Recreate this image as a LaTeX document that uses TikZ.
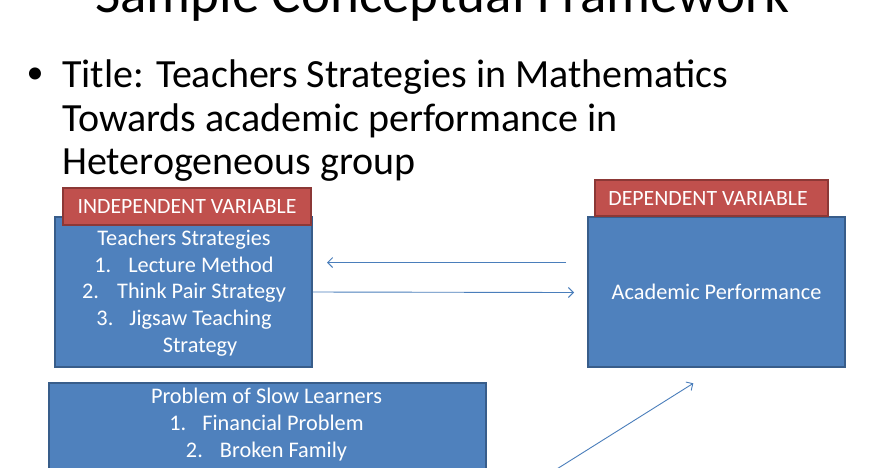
\documentclass[tikz,border=0pt]{standalone}
\usepackage{fontspec}
\setmainfont{Carlito}
\usetikzlibrary{arrows.meta}
\definecolor{boxblue}{HTML}{4F81BD}
\definecolor{boxblueline}{HTML}{385D8A}
\definecolor{boxred}{HTML}{C0504D}
\definecolor{boxredline}{HTML}{8C3836}
\definecolor{arrowblue}{HTML}{4A7EBB}
\begin{document}
\begin{tikzpicture}[x=1pt,y=-1pt,
  bluebox/.style={draw=boxblueline, fill=boxblue, line width=1.8pt, rectangle, inner sep=0pt},
  redbox/.style={draw=boxredline, fill=boxred, line width=1.8pt, rectangle, inner sep=0pt, text=white, font=\fontsize{21.8}{25}\selectfont},
  boxtext/.style={text=white, align=center, font=\fontsize{22.3}{26.7}\selectfont, inner sep=0pt},
  bodytext/.style={anchor=base west, inner sep=0pt, font=\fontsize{40}{48}\selectfont},
  headtext/.style={anchor=base, inner sep=0pt, font=\fontsize{55}{60}\selectfont},
  link/.style={draw=arrowblue, line width=0.9pt, -{Straight Barb[length=5pt,width=10pt]}}]
\useasboundingbox[fill=white] (0,0) rectangle (890,467);

% heading and bullet text
\node[headtext] (heading) at (442.5,12.5) {Sample Conceptual Framework};
\node[bodytext, anchor=center, font=\fontsize{34}{40}\selectfont] (bullet) at (35,76) {•};
\node[bodytext] (line1) at (62,87) {Title: Teachers Strategies in Mathematics};
\node[bodytext] (line2) at (62,131) {Towards academic performance in};
\node[bodytext] (line3) at (62,174) {Heterogeneous group};

% independent variable
\node[bluebox, minimum width=257pt, minimum height=150pt] (indep) at (183.5,292) {};
\node[boxtext] (indeptext) at (184,293) {Teachers Strategies\\
  \makebox[34pt][l]{1.}Lecture Method\\
  \makebox[35pt][l]{2.}Think Pair Strategy\\
  \makebox[33pt][l]{3.}Jigsaw Teaching\\
  \hspace*{32pt}Strategy};
\node[redbox, minimum width=248pt, minimum height=37pt] (indeplabel) at (187,206.5) {INDEPENDENT VARIABLE};

% dependent variable
\node[bluebox, minimum width=257pt, minimum height=150pt, text=white, font=\fontsize{22.3}{25}\selectfont] (dep) at (716.5,292) {Academic Performance};
\node[redbox, minimum width=233pt, minimum height=36pt] (deplabel) at (711.5,198) {DEPENDENT VARIABLE\hspace*{7pt}};

% slow learners
\node[bluebox, minimum width=437pt, minimum height=150pt, anchor=north west] (slow) at (48,382) {};
\node[boxtext] (slowtext) at (266.5,424.5) {Problem of Slow Learners\\
  \makebox[33pt][l]{1.}Financial Problem\\
  \makebox[34pt][l]{2.}Broken Family};

% connectors
\coordinate (a1s) at (566,262.5);
\coordinate (a1e) at (327,262.5);
\coordinate (a2e) at (574,292.5);
\coordinate (a3s) at (539.3,480);
\coordinate (a3e) at (693.3,383.3);
\draw[link] (a1s) -- (a1e);
\draw[link] (indep.east) -- (a2e);
\draw[link] (a3s) -- (a3e);
\end{tikzpicture}
\end{document}
